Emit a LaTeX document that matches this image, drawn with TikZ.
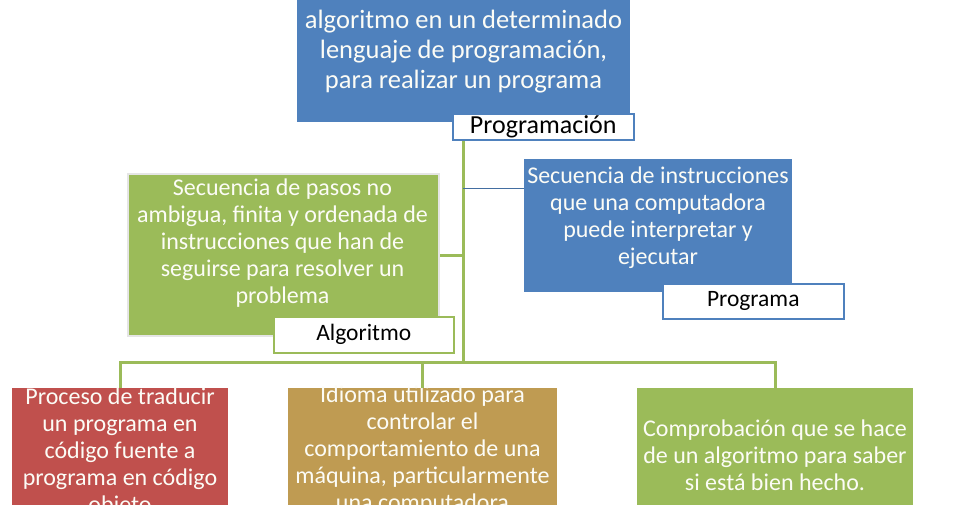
\documentclass[tikz,border=0pt]{standalone}
\usepackage{fontspec}
\setmainfont{Carlito}
\usetikzlibrary{shadows}
\definecolor{oblue}{HTML}{4F81BD}
\definecolor{ogreen}{HTML}{9BBB59}
\definecolor{ored}{HTML}{C0504D}
\definecolor{ogold}{HTML}{BF9B52}
\definecolor{txtw}{HTML}{FCFCF6}
\tikzset{
  boxshape/.style={rectangle, inner sep=0pt, anchor=north west},
  boxtext/.style={text=txtw, align=center, inner sep=0pt, font=\fontsize{24}{27}\selectfont},
  lbl/.style={rectangle, fill=white, inner sep=0pt, anchor=north west, line width=1.5pt, font=\fontsize{23.5}{26}\selectfont,
    drop shadow={opacity=0.25, shadow xshift=1.5pt, shadow yshift=-1.5pt}},
  gline/.style={draw=ogreen, line width=3pt},
  bline/.style={draw=oblue!85!black, line width=1pt},
}
\begin{document}
\begin{tikzpicture}[x=1pt,y=-1pt]
\useasboundingbox (0,0) rectangle (960,504);
\clip (0,0) rectangle (960,504);
\fill[white] (0,0) rectangle (960,504);
% top box
\node[boxshape, fill=oblue, minimum width=333pt, minimum height=140pt] (top) at (297,-18) {};
\node[boxtext, font=\fontsize{26.5}{30}\selectfont] (toptext) at (463.5,52) {algoritmo en un determinado\\lenguaje de programación,\\para realizar un programa};
% coordinates
\coordinate (j) at (463,362);
% algoritmo box
\node[boxshape, fill=ogreen, draw=black!10, line width=2pt, minimum width=311pt, minimum height=162pt] (alg) at (127,173) {};
\node[boxtext] (algtext) at (282.5,243) {Secuencia de pasos no\\ambigua, finita y ordenada de\\instrucciones que han de\\seguirse para resolver un\\problema};
% programa box
\node[boxshape, fill=oblue, minimum width=268pt, minimum height=133pt] (prg) at (524,159) {};
\node[boxtext] (prgtext) at (658,218) {Secuencia de instrucciones\\que una computadora\\puede interpretar y\\ejecutar};
% bottom boxes
\node[boxshape, fill=ored, minimum width=216pt, minimum height=130pt] (red) at (12,388) {};
\node[boxtext] (redtext) at (120,452) {Proceso de traducir\\un programa en\\código fuente a\\programa en código\\objeto};
\node[boxshape, fill=ogold, minimum width=269pt, minimum height=130pt] (gold) at (288,388) {};
\node[boxtext] (goldtext) at (422.5,450) {Idioma utilizado para\\controlar el\\comportamiento de una\\máquina, particularmente\\una computadora};
\node[boxshape, fill=ogreen, minimum width=276pt, minimum height=130pt] (grn) at (637,388) {};
\node[boxtext] (grntext) at (775,455) {Comprobación que se hace\\de un algoritmo para saber\\si está bien hecho.};
% labels
\node[lbl, draw=oblue, minimum width=181pt, minimum height=26pt, font=\fontsize{26}{28}\selectfont] (lprog) at (452,113) {Programación};
\node[lbl, draw=ogreen, minimum width=180pt, minimum height=36pt] (lalg) at (273,316) {Algoritmo};
\node[lbl, draw=oblue, minimum width=181pt, minimum height=35pt] (lprg) at (662,283) {Programa};
% connectors
\draw[gline] (lprog.south -| j) -- (j);
\draw[gline] (alg.east) -- (alg.east -| j);
\draw[bline] ([yshift=-29pt]prg.north west -| j) -- ([yshift=-29pt]prg.north west);
\draw[gline] (red.north) |- (grn.north |- j) -- (grn.north);
\draw[gline] (gold.north) -- (gold.north |- j);
\end{tikzpicture}
\end{document}
